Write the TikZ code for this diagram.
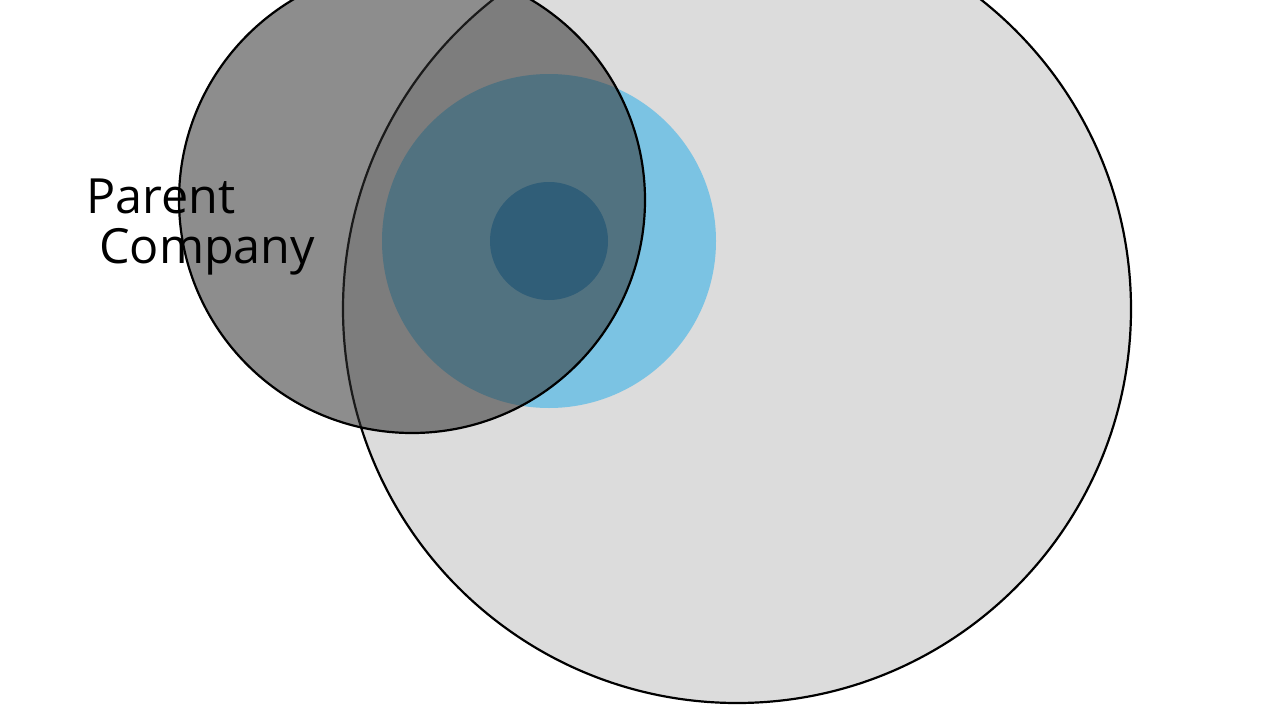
\documentclass[tikz,border=0pt]{standalone}
\usepackage{fontspec}
\setmainfont{Open Sans}
\begin{document}
\begin{tikzpicture}[x=1pt,y=-1pt,
  ring/.style={circle,inner sep=0pt,outer sep=0pt},
  outline/.style={draw=black,line width=2.2pt},
  lbl/.style={anchor=base west,inner sep=0pt,font=\fontsize{48.5}{52}\selectfont,text=black}]
\useasboundingbox (0,0) rectangle (1280,720);
\fill[white] (0,0) rectangle (1280,720);
% large light-grey circle
\node[ring,outline,fill={rgb,255:red,220;green,220;blue,220},minimum size=788pt] (big) at (737,309) {};
% blue circle
\node[ring,fill={rgb,255:red,123;green,195;blue,227},minimum size=334pt] (blue) at (549,241) {};
% small dark-blue core
\node[ring,fill={rgb,255:red,48;green,150;blue,208},minimum size=118pt] (core) at (549,241) {};
% translucent dark-grey circle
\node[ring,outline,fill={rgb,255:red,48;green,48;blue,48},fill opacity=0.55,minimum size=466pt] (parent) at (412,200) {};
% label
\node[lbl] (t1) at (86,213) {Parent};
\node[lbl] (t2) at (99,263) {Company};
\end{tikzpicture}
\end{document}
